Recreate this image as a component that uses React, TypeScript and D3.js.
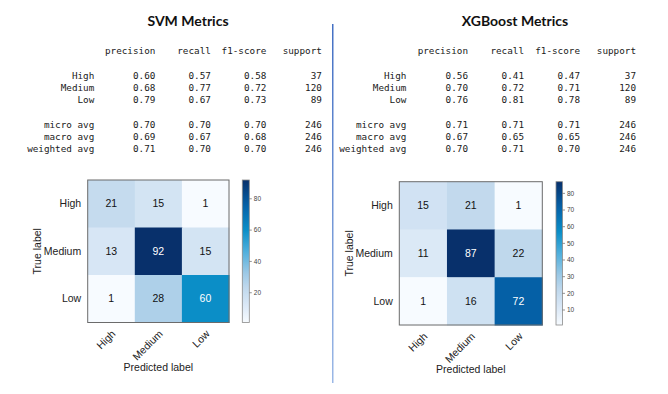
import React from 'react';
import * as d3 from 'd3';

// class names and report headers
const classes = ['High', 'Medium', 'Low'];
const reportHeaders = ['precision', 'recall', 'f1-score', 'support'];
const avgLabels = ['micro avg', 'macro avg', 'weighted avg'];

// SVM report + confusion matrix
const svmClassScores = [
  [0.60, 0.57, 0.58, 37],
  [0.68, 0.77, 0.72, 120],
  [0.79, 0.67, 0.73, 89],
];
const svmAvgScores = [
  [0.70, 0.70, 0.70, 246],
  [0.69, 0.67, 0.68, 246],
  [0.71, 0.70, 0.70, 246],
];
const svmMatrix = [
  [21, 15, 1],
  [13, 92, 15],
  [1, 28, 60],
];
const svmColorTicks = [20, 40, 60, 80];

// XGBoost report + confusion matrix
const xgbClassScores = [
  [0.56, 0.41, 0.47, 37],
  [0.70, 0.72, 0.71, 120],
  [0.76, 0.81, 0.78, 89],
];
const xgbAvgScores = [
  [0.71, 0.71, 0.71, 246],
  [0.67, 0.65, 0.65, 246],
  [0.70, 0.71, 0.70, 246],
];
const xgbMatrix = [
  [15, 21, 1],
  [11, 87, 22],
  [1, 16, 72],
];
const xgbColorTicks = [10, 20, 30, 40, 50, 60, 70, 80];

// Blues-like ramp, as it looks in the picture
const rampStops = [0, 0.12, 0.25, 0.35, 0.5, 0.65, 0.82, 1];
const rampColors = ['#f7fbff', '#dae8f6', '#bed7ec', '#9bc8e5', '#4fafdc', '#0a8ec7', '#0562a8', '#08306b'];

const mono = '"DejaVu Sans Mono", monospace';
const sans = '"Liberation Sans", Arial, sans-serif';

const fmt = (v: number, i: number) => (i === 3 ? String(v) : v.toFixed(2));

type PanelProps = {
  id: string;
  title: string;
  titleX: number;
  labelRight: number;
  cw: number;
  classScores: number[][];
  avgScores: number[][];
  matrix: number[][];
  colorTicks: number[];
  box: { x: number; y: number; w: number; h: number };
  bar: { x: number; w: number };
};

const Panel = ({ id, title, titleX, labelRight, cw, classScores, avgScores, matrix, colorTicks, box, bar }: PanelProps) => {
  const flat = matrix.flat();
  const vmin = d3.min(flat) as number;
  const vmax = d3.max(flat) as number;
  const color = d3.scaleLinear<string>()
    .domain(rampStops.map(t => vmin + t * (vmax - vmin)))
    .range(rampColors)
    .interpolate(d3.interpolateRgb);

  const x = d3.scaleBand().domain(classes).range([box.x, box.x + box.w]);
  const y = d3.scaleBand().domain(classes).range([box.y, box.y + box.h]);
  const cy = d3.scaleLinear().domain([vmin, vmax]).range([box.y + box.h, box.y]);

  const colRight = (k: number) => labelRight + cw * (11 + 10 * k);
  const rowY = [79, 91, 103];
  const avgY = [128, 140, 152];
  const gradStops = d3.range(0, 1.0001, 0.05);

  return (
    <g>
      <text x={titleX} y={26} textAnchor="middle" fontFamily='Lato, "Open Sans", sans-serif'
        fontWeight="bold" fontSize={14} fill="#111">{title}</text>

      {/* classification report */}
      <g fontFamily={mono} fontSize={9.3} fill="#1a1a1a">
        {reportHeaders.map((h, k) => (
          <text key={h} x={colRight(k)} y={54} textAnchor="end">{h}</text>
        ))}
        {classes.map((c, r) => (
          <g key={c}>
            <text x={labelRight} y={rowY[r]} textAnchor="end">{c}</text>
            {classScores[r].map((v, k) => (
              <text key={k} x={colRight(k)} y={rowY[r]} textAnchor="end">{fmt(v, k)}</text>
            ))}
          </g>
        ))}
        {avgLabels.map((c, r) => (
          <g key={c}>
            <text x={labelRight} y={avgY[r]} textAnchor="end" xmlSpace="preserve">{c}</text>
            {avgScores[r].map((v, k) => (
              <text key={k} x={colRight(k)} y={avgY[r]} textAnchor="end">{fmt(v, k)}</text>
            ))}
          </g>
        ))}
      </g>

      {/* confusion matrix */}
      <g>
        {matrix.map((row, r) => row.map((v, c) => (
          <g key={`${r}-${c}`}>
            <rect x={x(classes[c])} y={y(classes[r])} width={x.bandwidth() + 0.5} height={y.bandwidth() + 0.5}
              fill={color(v)} />
            <text x={(x(classes[c]) as number) + x.bandwidth() / 2} y={(y(classes[r]) as number) + y.bandwidth() / 2}
              dy="0.35em" textAnchor="middle" fontFamily={sans} fontSize={10.5}
              fill={v > vmax / 2 ? '#ffffff' : '#111'}>{v}</text>
          </g>
        )))}
        <rect x={box.x} y={box.y} width={box.w} height={box.h} fill="none" stroke="#6b6b6b" strokeWidth={1} />
      </g>

      {/* axis labels */}
      <g fontFamily={sans} fontSize={10.5} fill="#222">
        {classes.map(c => (
          <text key={'r' + c} x={box.x - 6.5} y={(y(c) as number) + y.bandwidth() / 2} dy="0.35em" textAnchor="end">{c}</text>
        ))}
        {classes.map(c => {
          const ax = (x(c) as number) + x.bandwidth() / 2 + 5;
          const ay = box.y + box.h + 12;
          return (
            <text key={'c' + c} x={ax} y={ay} textAnchor="end" transform={`rotate(-45, ${ax}, ${ay})`}>{c}</text>
          );
        })}
        <text x={box.x + box.w / 2} y={box.y + box.h + 48} textAnchor="middle">Predicted label</text>
        <text transform={`translate(${box.x - 46.5}, ${box.y + box.h / 2}) rotate(-90)`} textAnchor="middle">True label</text>
      </g>

      {/* colorbar */}
      <defs>
        <linearGradient id={`grad-${id}`} x1="0" y1="1" x2="0" y2="0">
          {gradStops.map(t => (
            <stop key={t} offset={t} stopColor={color(vmin + t * (vmax - vmin))} />
          ))}
        </linearGradient>
      </defs>
      <rect x={bar.x} y={box.y} width={bar.w} height={box.h} fill={`url(#grad-${id})`} stroke="#8a8a8a" strokeWidth={0.8} />
      <g fontFamily={sans} fontSize={6.5} fill="#444">
        {colorTicks.map(t => (
          <g key={t}>
            <line x1={bar.x + bar.w} x2={bar.x + bar.w + 2.5} y1={cy(t)} y2={cy(t)} stroke="#666" strokeWidth={0.7} />
            <text x={bar.x + bar.w + 4.5} y={cy(t)} dy="0.35em">{t}</text>
          </g>
        ))}
      </g>
    </g>
  );
};

export default function App() {
  return (
    <svg width={668} height={394} style={{ position: 'absolute', left: 0, top: 0, background: '#fff' }}>
      <rect width={668} height={394} fill="#fff" />
      <defs>
        <linearGradient id="divider" x1="0" y1="0" x2="0" y2="1">
          <stop offset="0" stopColor="#4470c4" />
          <stop offset="1" stopColor="#9bb8e6" />
        </linearGradient>
      </defs>
      <rect x={332} y={24} width={1.5} height={359} fill="url(#divider)" />

      <Panel id="svm" title="SVM Metrics" titleX={188} labelRight={94.3} cw={5.55}
        classScores={svmClassScores} avgScores={svmAvgScores} matrix={svmMatrix} colorTicks={svmColorTicks}
        box={{ x: 87.7, y: 180, w: 141.3, h: 142.5 }} bar={{ x: 242.3, w: 7 }} />
      <Panel id="xgb" title="XGBoost Metrics" titleX={515} labelRight={406.4} cw={5.6}
        classScores={xgbClassScores} avgScores={xgbAvgScores} matrix={xgbMatrix} colorTicks={xgbColorTicks}
        box={{ x: 399.3, y: 181.7, w: 143, h: 143.3 }} bar={{ x: 556, w: 6.5 }} />
    </svg>
  );
}
